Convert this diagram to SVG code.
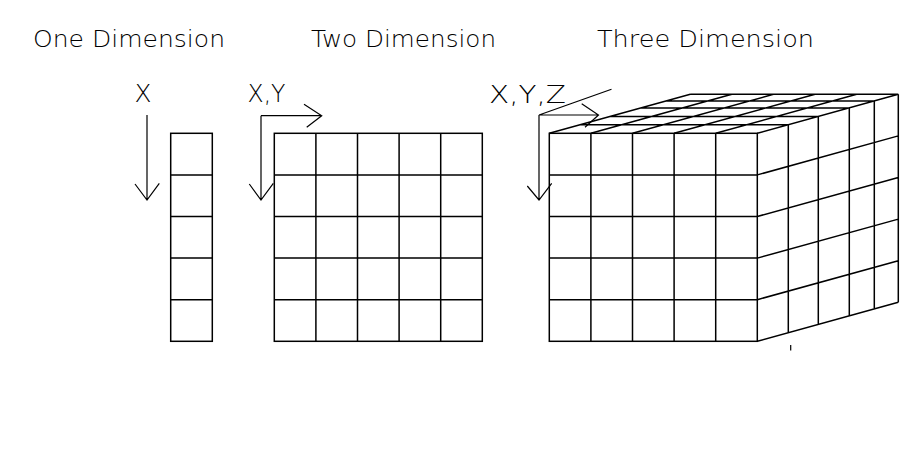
<svg xmlns="http://www.w3.org/2000/svg" width="918" height="460" viewBox="0 0 918 460">
<style>
  .g { stroke:#000; stroke-width:1.5; fill:none; }
  .a { stroke:#000; stroke-width:1.2; fill:none; }
  .t { font-family:"DejaVu Sans","Liberation Sans",sans-serif; font-weight:200; font-size:22.5px; fill:#000; }
  .l { font-family:"DejaVu Sans","Liberation Sans",sans-serif; font-weight:200; font-size:25px; fill:#000; }
</style>
<rect width="918" height="460" fill="#fff"/>
<g id="titles">
  <text class="t" x="33" y="46.5" textLength="192" lengthAdjust="spacingAndGlyphs">One Dimension</text>
  <text class="t" x="311" y="46.5" textLength="185" lengthAdjust="spacingAndGlyphs">Two Dimension</text>
  <text class="t" x="597" y="46.5" textLength="217" lengthAdjust="spacingAndGlyphs">Three Dimension</text>
</g>
<g id="one-dimension">
  <rect class="g" x="170.7" y="133.3" width="41.6" height="208"/>
  <path class="g" d="M170.7 174.9H212.3M170.7 216.5H212.3M170.7 258.1H212.3M170.7 299.7H212.3"/>
  <text class="l" x="134.5" y="102" textLength="17" lengthAdjust="spacingAndGlyphs">X</text>
</g>
<g id="two-dimension">
  <rect class="g" x="274.3" y="133.3" width="208" height="208"/>
  <path class="g" d="M315.9 133.3V341.3M357.5 133.3V341.3M399.1 133.3V341.3M440.7 133.3V341.3M274.3 174.9H482.3M274.3 216.5H482.3M274.3 258.1H482.3M274.3 299.7H482.3"/>
  <text class="l" x="247.5" y="102" textLength="38" lengthAdjust="spacingAndGlyphs">X,Y</text>
</g>
<g id="three-dimension">
  <rect class="g" x="549.3" y="133.3" width="208" height="208"/>
  <path class="g" d="M590.9 133.3V341.3M632.5 133.3V341.3M674.1 133.3V341.3M715.7 133.3V341.3M549.3 174.9H757.3M549.3 216.5H757.3M549.3 258.1H757.3M549.3 299.7H757.3"/>
  <path class="g" d="M580.3 124.7H788.3M610.3 116.4H818.3M641.3 107.9H849.3M666.3 100.9H874.3M690.3 94.3H898.3
    M549.3 133.3L690.3 94.3M590.9 133.3L731.9 94.3M632.5 133.3L773.5 94.3M674.1 133.3L815.1 94.3M715.7 133.3L856.7 94.3M757.3 133.3L898.3 94.3"/>
  <path class="g" d="M788.3 124.7V332.7M818.3 116.4V324.4M849.3 107.9V315.9M874.3 100.9V308.9M898.3 94.3V302.3
    M757.3 174.9L898.3 135.9M757.3 216.5L898.3 177.5M757.3 258.1L898.3 219.1M757.3 299.7L898.3 260.7M757.3 341.3L898.3 302.3"/>
  <path class="a" d="M790.7 345V350.5"/>
  <text class="l" x="489" y="102.5" textLength="77" lengthAdjust="spacingAndGlyphs">X,Y,Z</text>
</g>
<g id="connectors">
  <path class="a" d="M147 115V200M135 184L147 200L159.3 183.3"/>
  <path class="a" d="M261 115.7H321.7M304 104.3L321.7 115.7L306.7 127.3M261 115.7V200M249.3 184L261 200L273.3 183.3"/>
  <path class="a" d="M539 115H598.5M581.7 103.8L598.5 115L585 127.2M539 115V200M527.3 186L539 200L551.7 183.3M539 115L611.5 89.3"/>
</g>
</svg>
